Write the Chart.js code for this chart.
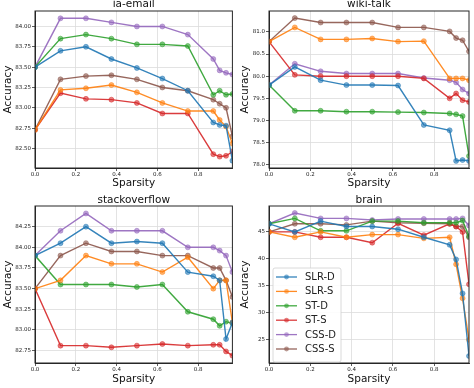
<!DOCTYPE html>
<html>
<head>
<meta charset="utf-8">
<script src="https://cdn.jsdelivr.net/npm/chart.js@4.4.1/dist/chart.umd.min.js"></script>
<style>
  html, body { margin: 0; padding: 0; background: #fff; }
  #wrap { position: relative; width: 474px; height: 388px; }
  .panel { position: absolute; width: 237px; height: 194px; }
</style>
</head>
<body>
<div id="wrap">
  <div class="panel" style="left:0;top:0"><canvas id="c-email" width="237" height="194"></canvas></div>
  <div class="panel" style="left:237px;top:0"><canvas id="c-wiki" width="237" height="194"></canvas></div>
  <div class="panel" style="left:0;top:194px"><canvas id="c-stack" width="237" height="194"></canvas></div>
  <div class="panel" style="left:237px;top:194px"><canvas id="c-brain" width="237" height="194"></canvas></div>
</div>
<script>
// sparsity levels shared by every panel
const sparsity = [0, 0.125, 0.25, 0.375, 0.5, 0.625, 0.75, 0.875, 0.90625, 0.9375, 0.96875];
const methods = ['SLR-D', 'SLR-S', 'ST-D', 'ST-S', 'CSS-D', 'CSS-S'];
const colors = ['#1f77b4', '#ff7f0e', '#2ca02c', '#d62728', '#9467bd', '#8c564b'];
const xTicks = [0, 0.2, 0.4, 0.6, 0.8];

// ia-email
const emailSLRD = [83.50, 83.70, 83.75, 83.60, 83.49, 83.36, 83.21, 82.82, 82.79, 82.78, 82.35];
const emailSLRS = [82.73, 83.22, 83.24, 83.28, 83.19, 83.06, 82.96, 82.96, 82.85, 82.77, 82.56];
const emailSTD  = [83.50, 83.85, 83.90, 83.85, 83.78, 83.78, 83.76, 83.16, 83.21, 83.16, 83.17];
const emailSTS  = [82.73, 83.18, 83.11, 83.10, 83.06, 82.93, 82.93, 82.43, 82.40, 82.41, 82.46];
const emailCSSD = [83.50, 84.10, 84.10, 84.05, 84.00, 84.00, 83.90, 83.60, 83.46, 83.43, 83.41];
const emailCSSS = [82.73, 83.35, 83.39, 83.40, 83.35, 83.25, 83.21, 83.10, 83.05, 83.00, 82.65];
const emailTicks = [82.50, 82.75, 83.00, 83.25, 83.50, 83.75, 84.00];

// wiki-talk
const wikiSLRD = [79.80, 80.21, 79.91, 79.80, 79.80, 79.79, 78.90, 78.78, 78.09, 78.11, 78.09];
const wikiSLRS = [80.78, 81.10, 80.83, 80.83, 80.85, 80.78, 80.79, 79.95, 79.95, 79.95, 79.91];
const wikiSTD  = [79.80, 79.22, 79.22, 79.20, 79.20, 79.19, 79.18, 79.16, 79.14, 79.10, 78.20];
const wikiSTS  = [80.78, 80.03, 80.00, 80.00, 80.00, 80.00, 79.95, 79.50, 79.61, 79.46, 79.42];
const wikiCSSD = [79.80, 80.28, 80.11, 80.06, 80.06, 80.06, 79.96, 79.91, 79.86, 79.70, 79.61];
const wikiCSSS = [80.78, 81.31, 81.21, 81.21, 81.21, 81.10, 81.10, 81.01, 80.86, 80.81, 80.56];
const wikiTicks = [78.0, 78.5, 79.0, 79.5, 80.0, 80.5, 81.0];

// stackoverflow
const stackSLRD = [83.90, 84.05, 84.25, 84.05, 84.07, 84.05, 83.70, 83.65, 83.60, 82.89, 83.09];
const stackSLRS = [83.50, 83.60, 83.90, 83.80, 83.80, 83.70, 83.88, 83.50, 83.60, 83.60, 83.09];
const stackSTD  = [83.90, 83.55, 83.55, 83.55, 83.52, 83.55, 83.22, 83.13, 83.05, 83.10, 83.08];
const stackSTS  = [83.50, 82.81, 82.81, 82.79, 82.81, 82.83, 82.81, 82.82, 82.82, 82.74, 82.69];
const stackCSSD = [83.90, 84.20, 84.41, 84.20, 84.20, 84.20, 84.00, 84.00, 83.96, 83.90, 83.70];
const stackCSSS = [83.50, 83.90, 84.05, 83.95, 83.95, 83.90, 83.90, 83.75, 83.75, 83.60, 83.40];
const stackTicks = [82.75, 83.00, 83.25, 83.50, 83.75, 84.00, 84.25];

// brain
const brainSLRD = [46.5, 45.0, 47.0, 46.0, 46.0, 45.5, 44.0, 42.6, 39.9, 33.6, 22.0];
const brainSLRS = [45.0, 44.0, 45.0, 44.0, 44.5, 44.5, 43.8, 44.0, 39.0, 32.7, 25.0];
const brainSTD  = [46.5, 47.5, 45.2, 45.2, 47.0, 47.0, 46.7, 46.7, 46.7, 47.1, 44.2];
const brainSTS  = [45.0, 45.0, 44.0, 44.0, 43.0, 46.6, 44.4, 46.5, 46.0, 45.0, 35.3];
const brainCSSD = [46.5, 48.5, 47.5, 47.5, 47.2, 47.4, 47.4, 47.4, 47.4, 47.5, 46.2];
const brainCSSS = [45.0, 46.5, 46.5, 46.3, 47.0, 46.7, 46.6, 46.5, 46.0, 46.0, 44.0];
const brainTicks = [25, 30, 35, 40, 45];

const FONT = '"DejaVu Sans", sans-serif';

function alpha(hex, a) {
  const n = parseInt(hex.slice(1), 16);
  return `rgba(${n >> 16}, ${(n >> 8) & 255}, ${n & 255}, ${a})`;
}

// box round the plot, like matplotlib spines
const frame = {
  id: 'frame',
  afterDraw(chart) {
    const { ctx, chartArea: a } = chart;
    ctx.save();
    ctx.strokeStyle = '#262626';
    ctx.lineWidth = 1;
    ctx.strokeRect(a.left, a.top, a.right - a.left, a.bottom - a.top);
    ctx.restore();
  }
};

// legend inside the plot, lower left (only on brain)
const legendBox = {
  id: 'legendBox',
  afterDraw(chart) {
    const { ctx, chartArea } = chart;
    const w = 68, h = 94;
    const x = chartArea.left + 4;
    const y = chartArea.bottom - 1 - h;
    ctx.save();
    ctx.fillStyle = 'rgba(255,255,255,0.9)';
    ctx.strokeStyle = '#d0d0d0';
    ctx.lineWidth = 0.8;
    ctx.beginPath();
    ctx.roundRect(x, y, w, h, 2);
    ctx.fill();
    ctx.stroke();
    ctx.font = '10px ' + FONT;
    ctx.textBaseline = 'middle';
    chart.data.datasets.forEach((ds, i) => {
      const cy = y + 9 + i * 14.4;
      ctx.strokeStyle = ds.borderColor;
      ctx.lineWidth = 1.3;
      ctx.beginPath();
      ctx.moveTo(x + 3, cy);
      ctx.lineTo(x + 24, cy);
      ctx.stroke();
      ctx.fillStyle = ds.pointBackgroundColor;
      ctx.beginPath();
      ctx.arc(x + 13.5, cy, 2.4, 0, Math.PI * 2);
      ctx.fill();
      ctx.fillStyle = '#222';
      ctx.fillText(ds.label, x + 32, cy + 0.5);
    });
    ctx.restore();
  }
};

function makeChart(id, title, series, yTicks, yMin, yMax, decimals, box, withLegend) {
  const datasets = series.map((vals, i) => ({
    label: methods[i],
    data: vals.map((v, j) => ({ x: sparsity[j], y: v })),
    borderColor: alpha(colors[i], 0.9),
    borderWidth: 1.4,
    pointRadius: 2.5,
    pointBorderWidth: 0.6,
    pointBackgroundColor: alpha(colors[i], 0.6),
    pointBorderColor: alpha(colors[i], 0.8),
    tension: 0,
  }));

  return new Chart(document.getElementById(id), {
    type: 'line',
    data: { datasets },
    options: {
      responsive: false,
      animation: false,
      events: [],
      layout: { padding: { left: 0, right: box.right, top: 0, bottom: 0 } },
      plugins: {
        legend: { display: false },
        tooltip: { enabled: false },
        title: {
          display: true,
          text: title,
          fullSize: false,
          color: '#111',
          font: { size: 10.5, family: FONT, weight: 'normal' },
          padding: { top: box.titleTop, bottom: box.titleBottom },
        },
      },
      scales: {
        x: {
          type: 'linear',
          min: 0,
          max: sparsity[sparsity.length - 1],
          afterBuildTicks: s => { s.ticks = xTicks.map(v => ({ value: v })); },
          afterFit: s => { s.height = box.xHeight; },
          ticks: {
            callback: v => v.toFixed(1),
            color: '#222',
            font: { size: 5.5, family: FONT },
            padding: 0,
            maxRotation: 0,
          },
          grid: { color: '#dcdcdc', lineWidth: 0.8, tickColor: '#333', tickLength: 3 },
          border: { color: '#262626' },
          title: {
            display: true,
            text: 'Sparsity',
            color: '#111',
            font: { size: 10.5, family: FONT },
            padding: { top: 0, bottom: box.xTitlePad },
          },
        },
        y: {
          min: yMin,
          max: yMax,
          afterBuildTicks: s => { s.ticks = yTicks.map(v => ({ value: v })); },
          afterFit: s => { s.width = box.yWidth; },
          ticks: {
            callback: v => v.toFixed(decimals),
            color: '#222',
            font: { size: 5.5, family: FONT },
            padding: 1,
          },
          grid: { color: '#dcdcdc', lineWidth: 0.8, tickColor: '#333', tickLength: 3 },
          border: { color: '#262626' },
          title: {
            display: true,
            text: 'Accuracy',
            color: '#111',
            font: { size: 10.5, family: FONT },
            padding: { top: 2, bottom: 0 },
          },
        },
      },
    },
    plugins: withLegend ? [frame, legendBox] : [frame],
  });
}

const topLeft = { right: 2, yWidth: 35, xHeight: 26, titleTop: -2, titleBottom: 0.4, xTitlePad: 4 };
const topRight = { right: 5, yWidth: 32, xHeight: 26, titleTop: -2, titleBottom: 0.4, xTitlePad: 4 };
const botLeft = { right: 1, yWidth: 35, xHeight: 25, titleTop: -0.5, titleBottom: -0.1, xTitlePad: 2 };
const botRight = { right: 5, yWidth: 32, xHeight: 25, titleTop: -0.5, titleBottom: -0.1, xTitlePad: 2 };

makeChart('c-email', 'ia-email',
  [emailSLRD, emailSLRS, emailSTD, emailSTS, emailCSSD, emailCSSS],
  emailTicks, 82.26, 84.19, 2, topLeft, false);
makeChart('c-wiki', 'wiki-talk',
  [wikiSLRD, wikiSLRS, wikiSTD, wikiSTS, wikiCSSD, wikiCSSS],
  wikiTicks, 77.93, 81.47, 1, topRight, false);
makeChart('c-stack', 'stackoverflow',
  [stackSLRD, stackSLRS, stackSTD, stackSTS, stackCSSD, stackCSSS],
  stackTicks, 82.60, 84.50, 2, botLeft, false);
makeChart('c-brain', 'brain',
  [brainSLRD, brainSLRS, brainSTD, brainSTS, brainCSSD, brainCSSS],
  brainTicks, 20.7, 49.8, 0, botRight, true);
</script>
</body>
</html>
